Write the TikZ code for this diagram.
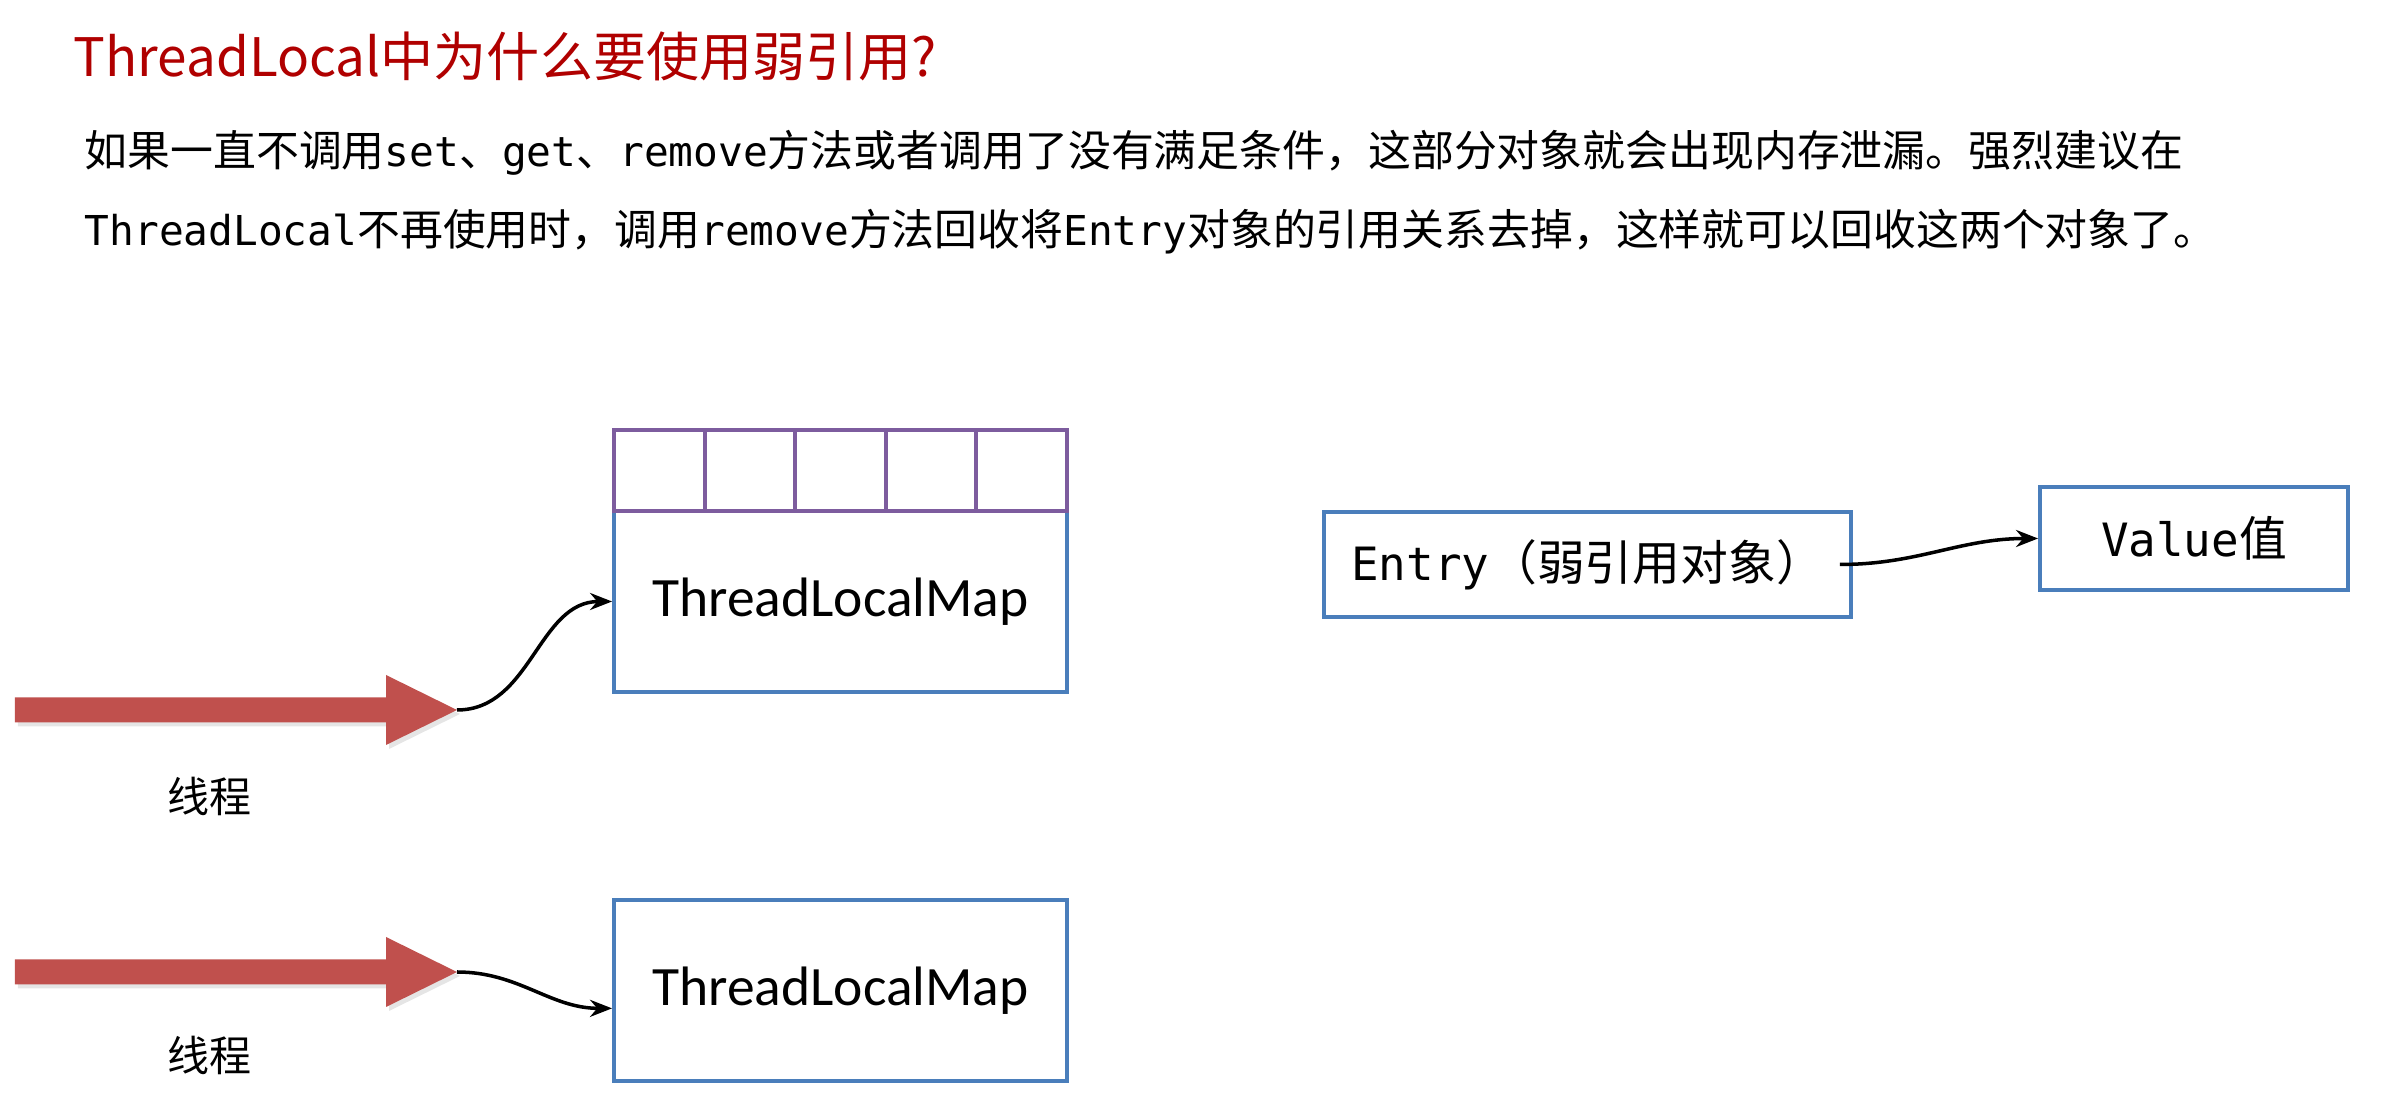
\documentclass[tikz,border=0pt]{standalone}
\usepackage{fontspec}
\setmainfont{Noto Sans CJK SC}
\newfontfamily\codefont[Scale=0.96]{DejaVu Sans Mono}
\newfontfamily\mapfont{Carlito}
\newcommand{\tcode}[1]{{\codefont #1}}
\usetikzlibrary{arrows.meta}
\usetikzlibrary{positioning}

\definecolor{boxblue}{HTML}{4A7EBB}
\definecolor{slotpurple}{HTML}{7D5C9E}
\definecolor{threadred}{HTML}{C0504D}
\definecolor{titlered}{HTML}{B00000}

\tikzset{
  mapbox/.style={draw=boxblue,line width=1.1pt,minimum width=4.53cm,minimum height=1.81cm,inner sep=0pt,font=\mapfont\fontsize{15.8pt}{19pt}\selectfont},
  slot/.style={draw=slotpurple,line width=1.1pt,minimum width=0.906cm,minimum height=0.81cm,inner sep=0pt},
  objbox/.style={draw=boxblue,line width=1.1pt,inner sep=0pt,font=\fontsize{13.6pt}{16pt}\selectfont},
  bodytext/.style={anchor=base west,inner sep=0pt,font=\fontsize{12.2pt}{15pt}\selectfont},
  link/.style={-{Stealth[length=0.22cm,width=0.17cm]},line width=1pt},
  thread/.style={fill=threadred},
}

\begin{document}
\begin{tikzpicture}
\fill[white] (0,0) rectangle (23.9,11.06);
\useasboundingbox (0,0) rectangle (23.9,11.06);

\node[anchor=base west,inner sep=0pt,text=titlered,font=\fontsize{15.1pt}{18pt}\selectfont] (title) at (0.73,10.29) {ThreadLocal中为什么要使用弱引用?};
\node[bodytext] (line1) at (0.84,9.39) {如果一直不调用\tcode{set}、\tcode{get}、\tcode{remove}方法或者调用了没有满足条件，这部分对象就会出现内存泄漏。强烈建议在};
\node[bodytext] (line2) at (0.84,8.60) {\tcode{ThreadLocal}不再使用时，调用\tcode{remove}方法回收将\tcode{Entry}对象的引用关系去掉，这样就可以回收这两个对象了。};

\node[mapbox] (map1) at (8.405,5.045) {ThreadLocalMap};
\foreach \i in {1,...,5}
  \node[slot] (slot\i) at ({6.14+0.906*(\i-0.5)},6.355) {};
\node[mapbox,below=2.04cm of map1] (map2) {ThreadLocalMap};

\foreach \y/\n in {3.96/t1,1.34/t2}{
  \fill[black,opacity=0.1] (0.18,{\y+0.085}) -- (3.89,{\y+0.085}) -- (3.89,{\y+0.31}) -- (4.6,{\y-0.04}) -- (3.89,{\y-0.39}) -- (3.89,{\y-0.165}) -- (0.18,{\y-0.165}) -- cycle;
  \fill[thread] (0.15,{\y+0.125}) -- (3.86,{\y+0.125}) -- (3.86,{\y+0.35}) -- (4.57,\y) -- (3.86,{\y-0.35}) -- (3.86,{\y-0.125}) -- (0.15,{\y-0.125}) -- cycle;
  \coordinate (\n) at (4.57,\y);
}
\node[font=\fontsize{11.95pt}{14pt}\selectfont] (lbl1) at (2.09,3.10) {线程};
\node[font=\fontsize{11.95pt}{14pt}\selectfont] (lbl2) at (2.09,0.51) {线程};

\draw[link] (t1) to[out=0,in=180] (map1.west);
\draw[link] (t2) to[out=0,in=180] ([yshift=-0.18cm]map2.west);

\node[objbox,minimum width=5.27cm,minimum height=1.05cm] (Entry) at (15.875,5.415) {\tcode{Entry}（弱引用对象）};
\node[objbox,minimum width=3.08cm,minimum height=1.03cm] (Value) at (21.94,5.675) {\tcode{Value}值};
\draw[link] ([xshift=-0.13cm]Entry.east) to[out=0,in=180] (Value.west);

\end{tikzpicture}
\end{document}
